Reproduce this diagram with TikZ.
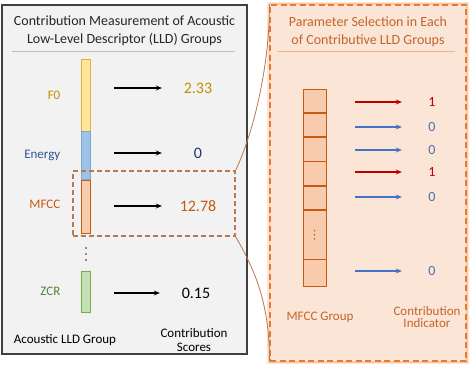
\documentclass[tikz,border=0pt]{standalone}
\usepackage{fontspec}
\setmainfont{Carlito}
\usepackage{xcolor}
\usetikzlibrary{arrows.meta, positioning}

\definecolor{measfill}{HTML}{F2F2F2}
\definecolor{measdraw}{HTML}{404040}
\definecolor{selfill}{HTML}{FBE5D6}
\definecolor{seldraw}{HTML}{E87A30}
\definecolor{selglow}{HTML}{F4B183}
\definecolor{seltext}{HTML}{C4652A}
\definecolor{f0fill}{HTML}{FFE699}
\definecolor{f0draw}{HTML}{DDB040}
\definecolor{f0text}{HTML}{BF9000}
\definecolor{energyfill}{HTML}{9DC3E6}
\definecolor{energydraw}{HTML}{7FA6CF}
\definecolor{energytext}{HTML}{2F5597}
\definecolor{energyval}{HTML}{1F3864}
\definecolor{mfccfill}{HTML}{F8CBAD}
\definecolor{mfccdraw}{HTML}{C55A11}
\definecolor{zcrfill}{HTML}{C5E0B4}
\definecolor{zcrdraw}{HTML}{70AD47}
\definecolor{zcrtext}{HTML}{548235}
\definecolor{focusdraw}{HTML}{B87850}
\definecolor{selred}{HTML}{C00000}
\definecolor{selblue}{HTML}{4472C4}
\definecolor{flagblue}{HTML}{4E6FA8}

\begin{document}
\begin{tikzpicture}[x=1pt, y=-1pt, node distance=17pt,
    measpanel/.style={rectangle, fill=measfill, draw=measdraw, line width=1.5pt,
                minimum width=245pt, minimum height=349pt},
    selpanel/.style={rectangle, fill=selfill, draw=seldraw, line width=1.3pt,
                dash pattern=on 6pt off 3.5pt, minimum width=196pt, minimum height=356pt,
                preaction={draw=selglow, line width=6pt, opacity=0.35, solid},
                preaction={draw=selglow, line width=3pt, opacity=0.5, solid}},
    headline/.style={font=\fontsize{14}{18}\selectfont, align=center},
    bar/.style={rectangle, line width=0.8pt, minimum width=9.5pt, inner sep=0pt},
    lld/.style={font=\fontsize{13}{14}\selectfont, align=center},
    score/.style={font=\fontsize{16}{18}\selectfont, minimum width=40pt, inner sep=0pt},
    flag/.style={font=\fontsize{14}{16}\selectfont, minimum width=40pt, inner sep=0pt},
    arrow/.style={-{Stealth[length=6pt, width=5pt]}, line width=1.2pt,
                shorten >=16pt, shorten <=23pt},
    selarrow/.style={-{Stealth[length=6pt, width=5pt]}, line width=1.1pt,
                shorten >=10pt, shorten <=29pt},
    cell/.style={rectangle, fill=mfccfill, draw=mfccdraw, line width=0.8pt,
                minimum width=23pt, minimum height=23.5pt, inner sep=0pt},
    focus/.style={rectangle, draw=focusdraw, line width=1.1pt, dash pattern=on 5pt off 3pt,
                minimum width=162pt, minimum height=65pt},
    link/.style={draw=focusdraw, line width=0.8pt}]

\useasboundingbox (0,0) rectangle (474,366);

% left panel
\node[measpanel] (meas) at (124.5,179.5) {};
\node[headline, text=black!85] (meastitle) at (124.5,31) {Contribution Measurement of Acoustic\\Low-Level Descriptor (LLD) Groups};
\draw[black!25, line width=1pt] (12,52) -- (235,52);

\node[bar, fill=f0fill, draw=f0draw, minimum height=72pt] (f0bar) at (86,95) {};
\node[bar, fill=energyfill, draw=energydraw, minimum height=48pt, below=0pt of f0bar] (energybar) {};
\node[bar, fill=mfccfill, draw=mfccdraw, minimum height=53pt, below=0pt of energybar] (mfccbar) {};
\node[bar, fill=zcrfill, draw=zcrdraw, minimum height=41pt] (zcrbar) at (86,291.5) {};
\foreach \y in {248,254,260}
  \fill[black!85] (86,\y) circle (0.9pt);

\node[lld, text=f0text, left=of f0bar] (f0lbl) {F0};
\node[lld, text=energytext, left=of energybar] (energylbl) {Energy};
\node[lld, text=mfccdraw, left=of mfccbar, yshift=3pt] (mfcclbl) {MFCC};
\node[lld, text=zcrtext, left=of zcrbar] (zcrlbl) {ZCR};

\node[score, text=f0text] (f0val) at (198,88) {2.33};
\node[score, text=energyval] (energyval) at (198,153) {0};
\node[score, text=mfccdraw] (mfccval) at (198,206) {12.78};
\node[score, text=black] (zcrval) at (196,293) {0.15};

\draw[arrow] (f0bar.east |- f0val) -- (f0val.west);
\draw[arrow] (energybar.east |- energyval) -- (energyval.west);
\draw[arrow] (mfccbar.east |- mfccval) -- (mfccval.west);
\draw[arrow] (zcrbar.east |- zcrval) -- (zcrval.west);

\node[focus] (mfccfocus) at (154,203.5) {};

\node[lld] (lldcap) at (65,340) {Acoustic LLD Group};
\node[lld] (scorecap) at (194,340) {Contribution\\Scores};

% right panel
\node[selpanel] (sel) at (368,183) {};
\node[headline, text=seltext] (seltitle) at (368,32) {Parameter Selection in Each\\of Contributive LLD Groups};
\draw[selglow, line width=1pt] (278,52) -- (455,52);

\node[cell] (c1) at (314.5,100.75) {};
\foreach \i [count=\j from 2] in {1,...,4}
  \node[cell, below=0pt of c\i] (c\j) {};
\node[cell, minimum height=48.5pt, below=0pt of c5] (c6) {};
\node[cell, minimum height=27pt, below=0pt of c6] (c7) {};
\foreach \d in {-4,0,4}
  \fill[mfccdraw] ([yshift=\d pt]c6.center) circle (0.8pt);

\node[flag, text=selred] (v1) at (432,102) {1};
\node[flag, text=flagblue] (v2) at (432,127) {0};
\node[flag, text=flagblue] (v3) at (432,150) {0};
\node[flag, text=selred] (v4) at (432,172) {1};
\node[flag, text=flagblue] (v5) at (432,197) {0};
\node[flag, text=flagblue] (v7) at (432,271) {0};

\draw[selarrow, selred] (c1.east |- v1) -- (v1.west);
\draw[selarrow, selblue] (c2.east |- v2) -- (v2.west);
\draw[selarrow, selblue] (c3.east |- v3) -- (v3.west);
\draw[selarrow, selred] (c4.east |- v4) -- (v4.west);
\draw[selarrow, selblue] (c5.east |- v5) -- (v5.west);
\draw[selarrow, selblue] (c7.east |- v7) -- (v7.west);

\node[lld, text=seltext] (groupcap) at (320,317) {MFCC Group};
\node[lld, text=seltext, font=\fontsize{13}{12}\selectfont] (flagcap) at (427,317.5) {Contribution\\Indicator};

% zoom links
\draw[link] (mfccfocus.north east) .. controls (255,130) and (270,60) .. (sel.north west);
\draw[link] (mfccfocus.south east) .. controls (252,265) and (270,300) .. (sel.south west);
\end{tikzpicture}
\end{document}
